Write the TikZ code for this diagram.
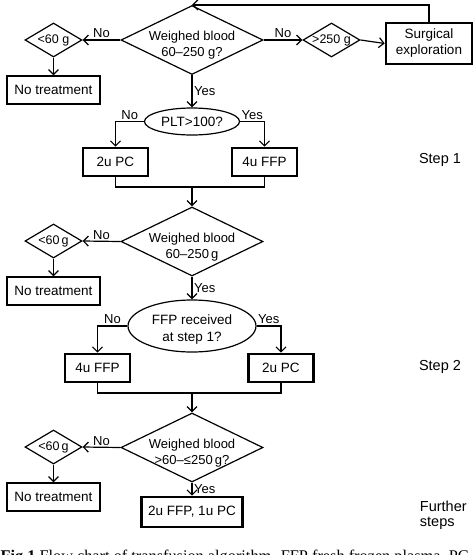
\documentclass[tikz,border=0pt]{standalone}
\usepackage{fontspec}
\setmainfont{Liberation Sans}
\newfontfamily\capfont{Liberation Serif}
\usetikzlibrary{shapes.geometric,arrows.meta}

\begin{document}
\begin{tikzpicture}[x=1pt, y=-1pt, line width=1.2pt,
    >={Straight Barb[length=5pt,width=10pt]},
    every node/.style={font=\fontsize{13.5}{16}\selectfont},
    bigdiamond/.style={draw, diamond, aspect=2.06, inner xsep=0pt, inner ysep=-10pt,
        text height=33pt, text depth=0pt, minimum width=142pt, minimum height=69pt,
        align=center, font=\fontsize{13}{16}\selectfont},
    smalldiamond/.style={draw, diamond, aspect=1.68, inner sep=0pt, text height=7pt, text depth=0pt,
        minimum width=57pt, minimum height=34pt, font=\fontsize{12.5}{14}\selectfont},
    endbox/.style={draw, rectangle, inner sep=0pt, minimum width=93pt, minimum height=28pt},
    dosebox/.style={draw, rectangle, line width=2.6pt, inner sep=0pt, minimum width=65pt, minimum height=28pt},
    question/.style={draw, ellipse, inner sep=0pt, align=center},
    lbl/.style={inner sep=1.5pt, font=\fontsize{13}{15}\selectfont}
]
    \useasboundingbox (0,0) rectangle (474,555);
    \clip (0,0) rectangle (474,555);

    % Start: weigh the blood
    \node[bigdiamond] (d1) at (192,40) {Weighed blood\\60–250 g?};
    \node[smalldiamond] (hi1) at (331.5,40) {>250 g};
    \node[draw, line width=2.6pt, inner sep=0pt, minimum width=86pt, minimum height=41pt,
        align=center] (surg) at (429,43.5) {Surgical\\exploration};

    \draw[->] (d1.east) -- node[lbl, above] {No} (hi1.west);
    \draw[->] (hi1.east) -- (surg.west);
    \draw[->] (surg.north) |- (d1.north);

    % Step 1
    \node[question, minimum width=95pt, minimum height=27pt] (e1) at (192,121.5) {PLT>100?};
    \node[dosebox] (pc1) at (115.5,162) {2u PC};
    \node[dosebox] (ffp1) at (264.5,162) {4u FFP};
    \node[font=\fontsize{14.5}{16}\selectfont] (step1) at (440,160) {Step 1};

    \draw[->] (d1.south) -- node[lbl, right] {Yes} (e1.north);
    \draw[->] (e1.west) -| node[lbl, pos=0.25, above] {No} (pc1.north);
    \draw[->] (e1.east) -| node[lbl, pos=0.25, above] {Yes} (ffp1.north);

    \coordinate (join1) at (192,187);
    \draw (pc1.south) |- (join1) -| (ffp1.south);

    % Step 2
    \node[bigdiamond] (d2) at (192,241.5) {Weighed blood\\60–250\,g};
    \node[question, minimum width=128pt, minimum height=52pt, text height=30pt, text depth=0pt,
        font=\fontsize{13.5}{17}\selectfont] (e2) at (192,326) {FFP received\\at step 1?};
    \node[dosebox] (ffp2) at (97.5,368) {4u FFP};
    \node[dosebox] (pc2) at (281,368) {2u PC};
    \node[font=\fontsize{14.5}{16}\selectfont] (step2) at (440,367) {Step 2};

    \draw[->] (join1) -- (d2.north);
    \draw[->] (d2.south) -- node[lbl, right] {Yes} (e2.north);
    \draw[->] (e2.west) -| node[lbl, pos=0.25, above] {No} (ffp2.north);
    \draw[->] (e2.east) -| node[lbl, pos=0.25, above] {Yes} (pc2.north);

    \coordinate (join2) at (192,393);
    \draw (ffp2.south) |- (join2) -| (pc2.south);

    % Further steps
    \node[bigdiamond] (d3) at (192,447.5) {Weighed blood\\>60–≤250\,g?};
    \node[dosebox, minimum width=101pt, minimum height=30pt] (mix) at (192,512) {2u FFP, 1u PC};
    \node[font=\fontsize{14.5}{15}\selectfont, align=left, anchor=west] (further) at (416,515) {Further\\steps};

    \draw[->] (join2) -- (d3.north);
    \draw[->] (d3.south) -- node[lbl, right] {Yes} (mix.north);

    % Below 60 g: no treatment
    \foreach \n/\y/\t in {1/40/{<60 g}, 2/241/{<60\,g}, 3/447/{<60\,g}} {
        \node[smalldiamond] (lo\n) at (53.5,\y) {\t};
        \node[endbox] (none\n) at (53.5,\y+50) {No treatment};
        \draw[->] (d\n.west) -- node[lbl, above] {No} (lo\n.east);
        \draw[->] (lo\n.south) -- (none\n.north);
    }

    % Caption (cut off at the page edge)
    \node[anchor=base west, inner sep=0pt, font=\capfont\fontsize{16.3}{18}\selectfont] (cap) at (0,561)
        {\textbf{Fig 1} Flow chart of transfusion algorithm. FFP fresh frozen plasma, PC};
\end{tikzpicture}
\end{document}
